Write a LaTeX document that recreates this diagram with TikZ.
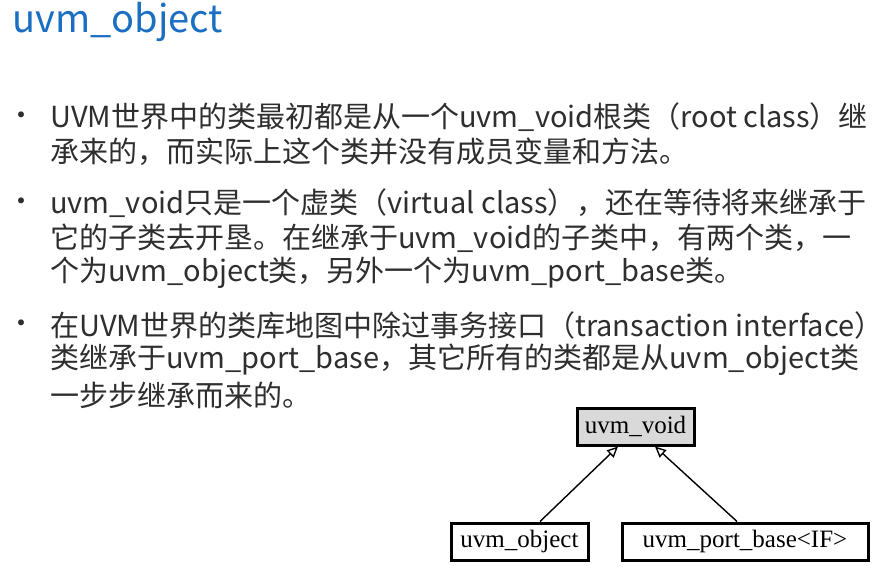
\documentclass[tikz,border=0pt]{standalone}
\usepackage{fontspec}
\setmainfont{Noto Sans CJK SC}
\newfontfamily\boxfont{Liberation Serif}
\usetikzlibrary{arrows.meta}
\definecolor{titleblue}{HTML}{1B6FC2}
\definecolor{bodygray}{HTML}{2E2E2E}
\tikzset{
  line/.style={anchor=west, inner sep=0pt, text=bodygray, font=\fontsize{29}{29}\selectfont},
  dot/.style={anchor=center, inner sep=0pt, text=bodygray, font=\fontsize{28}{28}\selectfont},
  cls/.style={draw, line width=3pt, inner sep=0pt, font=\boxfont\fontsize{25}{25}\selectfont},
  inherit/.style={-{Triangle[open, length=11pt, width=10pt]}, line width=1.4pt}
}
\begin{document}
\begin{tikzpicture}[x=1pt, y=-1pt]
    \useasboundingbox[fill=white] (0,0) rectangle (896,567);
    \node[anchor=west, inner sep=0pt, text=titleblue, font=\fontsize{38}{38}\selectfont] (title) at (12,22) {uvm\_object};
    % bullets
    \node[dot] (b1) at (22,119) {•};
    \node[line] (l1) at (50,117) {UVM世界中的类最初都是从一个uvm\_void根类（root class）继};
    \node[line] (l2) at (50,152) {承来的，而实际上这个类并没有成员变量和方法。};
    \node[dot] (b2) at (22,205) {•};
    \node[line] (l3) at (50,203) {uvm\_void只是一个虚类（virtual class），还在等待将来继承于};
    \node[line] (l4) at (50,238) {它的子类去开垦。在继承于uvm\_void的子类中，有两个类，一};
    \node[line] (l5) at (50,273) {个为uvm\_object类，另外一个为uvm\_port\_base类。};
    \node[dot] (b3) at (22,327) {•};
    \node[line] (l6) at (50,325) {在UVM世界的类库地图中除过事务接口（transaction interface）};
    \node[line] (l7) at (50,360) {类继承于uvm\_port\_base，其它所有的类都是从uvm\_object类};
    \node[line] (l8) at (50,395) {一步步继承而来的。};
    % class diagram
    \node[cls, fill=gray!30, minimum width=117pt, minimum height=37pt] (void) at (635.5,426.5) {uvm\_void};
    \node[cls, fill=white, minimum width=137pt, minimum height=37pt] (obj) at (519.5,541.5) {uvm\_object};
    \node[cls, fill=white, minimum width=246pt, minimum height=37pt] (port) at (745,541.5) {uvm\_port\_base<IF>};
    \draw[inherit] (obj.north -| 540,0) -- (void.south -| 618,0);
    \draw[inherit] (port.north -| 737,0) -- (void.south -| 655,0);
\end{tikzpicture}
\end{document}
